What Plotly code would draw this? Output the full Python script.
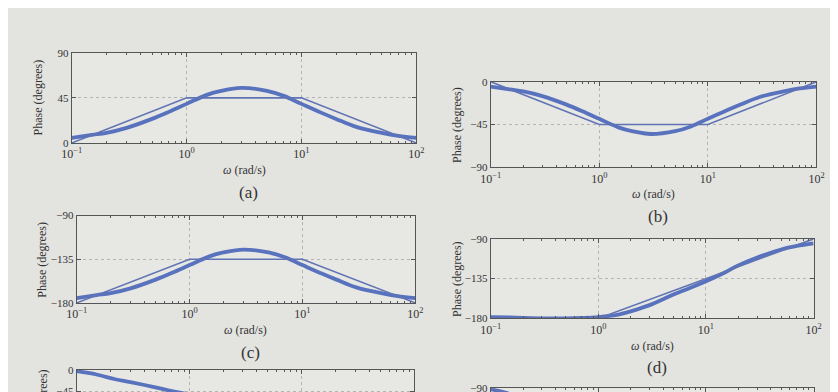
import plotly.graph_objects as go

# ---------------- data ----------------
w = [0.1, 0.15, 0.2, 0.3, 0.5, 0.7, 1, 1.5, 2, 3, 5, 7, 10, 15, 20, 30, 50, 70, 100]
w_asym = [0.1, 1, 10, 100]

a_exact = [5, 8, 10, 15, 24, 31, 39, 48, 52, 55, 52, 47, 39, 30, 24, 16, 10, 7, 5]
a_asym = [0, 45, 45, 0]

b_exact = [-5, -8, -10, -15, -24, -31, -39, -48, -52, -55, -52, -47, -39, -30, -24, -16, -10, -7, -5]
b_asym = [0, -45, -45, 0]

c_exact = [-175, -172, -170, -165, -156, -149, -141, -132, -128, -125, -128, -133, -141, -150, -156, -164, -170, -173, -175]
c_asym = [-180, -135, -135, -180]

d_exact = [-178.5, -179, -179.5, -180, -180, -179.5, -178.5, -176, -172, -165, -153, -146, -138, -128, -120, -111, -102, -98, -95]
d_asym = [-180, -180, -135, -90]

w_e = [0.1, 0.15, 0.22, 0.3, 0.5, 0.7, 1, 1.3]
e_exact = [-3, -10, -20, -26, -37, -45, -52, -58]

w_f = [0.1, 0.137, 0.2]
f_exact = [-91, -95, -102]
f_asym = [-90, -95, -103]

x_tickvals = [0.1, 1, 10, 100]
x_ticktext = ["10<sup>\u22121</sup>", "10<sup>0</sup>", "10<sup>1</sup>", "10<sup>2</sup>"]

# ---------------- style ----------------
W, H = 838, 392
BG = "#e3e3e0"
PLOT_BG = "#e7e7e4"
BLUE = "rgb(88,114,190)"
BLUE_T = "rgb(96,116,180)"
FRAME = "#555555"
GRID = "#b4b4b2"
FONT = "Liberation Serif, Times New Roman, serif"
TXT = "#333333"


def px_x(p):
    return p / W


def px_y(p):
    return 1 - p / H


# panel geometry in pixels: (x0, x1, ytop, ybottom)
panels = {
    "a": (55, 407, 40, 133),
    "b": (483, 816, 70, 158),
    "c": (60, 406, 208, 298),
    "d": (483, 813, 232, 314),
    "e": (60, 405, 367, 392),
    "f": (483, 813, 386, 392),
}

yranges = {
    "a": [0, 90], "b": [-90, 0], "c": [-180, -90], "d": [-180, -90],
    "e": [-51, 0], "f": [-96.5, -90],
}
yticks = {
    "a": [0, 45, 90], "b": [-90, -45, 0], "c": [-180, -135, -90], "d": [-180, -135, -90],
    "e": [-45, 0], "f": [-90],
}

series = {
    "a": [(w, a_exact, "exact"), (w_asym, a_asym, "asym")],
    "b": [(w, b_exact, "exact"), (w_asym, b_asym, "asym")],
    "c": [(w, c_exact, "exact"), (w_asym, c_asym, "asym")],
    "d": [(w, d_exact, "exact"), (w_asym, d_asym, "asym")],
    "e": [(w_e, e_exact, "exact")],
    "f": [(w_f, f_exact, "exact"), (w_f, f_asym, "asym")],
}

fig = go.Figure()
layout = dict(
    width=W, height=H, margin=dict(l=0, r=0, t=0, b=0),
    paper_bgcolor=BG, plot_bgcolor=PLOT_BG, showlegend=False,
    font=dict(family=FONT, color=TXT, size=11),
)
annotations = []

for i, key in enumerate(["a", "b", "c", "d", "e", "f"], start=1):
    x0, x1, yt, yb = panels[key]
    xa = "xaxis" if i == 1 else f"xaxis{i}"
    ya = "yaxis" if i == 1 else f"yaxis{i}"
    xr = "x" if i == 1 else f"x{i}"
    yr = "y" if i == 1 else f"y{i}"
    partial = key in ("e", "f")

    layout[xa] = dict(
        type="log", domain=[px_x(x0), px_x(x1)], anchor=yr, range=[-1, 2],
        tickvals=x_tickvals, ticktext=x_ticktext,
        showticklabels=not partial,
        ticks="inside", ticklen=4, tickcolor=FRAME, tickwidth=1,
        showline=True, linecolor=FRAME, linewidth=1,
        mirror=False if partial else "allticks",
        side="top" if partial else "bottom",
        showgrid=True, gridcolor=GRID, griddash="dot", gridwidth=1,
        minor=dict(ticks="inside", ticklen=2, tickcolor=FRAME, dtick="D1",
                   showgrid=False, tickwidth=1),
        tickfont=dict(family=FONT, size=12, color=TXT),
        zeroline=False, fixedrange=True,
    )
    layout[ya] = dict(
        domain=[px_y(yb), px_y(yt)], anchor=xr, range=yranges[key],
        tickvals=yticks[key], ticktext=[str(v).replace("-", "\u2212") for v in yticks[key]],
        ticks="inside", ticklen=4, tickcolor=FRAME,
        showline=True, linecolor=FRAME, linewidth=1, mirror="allticks",
        showgrid=True, gridcolor=GRID, griddash="dot", gridwidth=1,
        tickfont=dict(family=FONT, size=11, color=TXT),
        zeroline=False, fixedrange=True,
    )

    for xs, ys, kind in series[key]:
        fig.add_trace(go.Scatter(
            x=xs, y=ys, xaxis=xr, yaxis=yr, mode="lines",
            line=dict(color=BLUE if kind == "exact" else BLUE_T,
                      width=3.8 if kind == "exact" else 1.6,
                      shape="spline" if kind == "exact" else "linear"),
            hoverinfo="skip",
        ))

    # y-axis title
    ycenter = (yt + yb) / 2
    if key == "e":
        ycenter = 405
    if key != "f":
        annotations.append(dict(
            text="Phase (degrees)", textangle=-90, xref="paper", yref="paper",
            x=px_x(x0 - 35), y=px_y(ycenter), showarrow=False,
            font=dict(family=FONT, size=12, color=TXT), xanchor="center", yanchor="middle",
        ))

    if not partial:
        cx = (x0 + x1) / 2
        annotations.append(dict(
            text="<i>\u03c9</i> (rad/s)", xref="paper", yref="paper",
            x=px_x(cx), y=px_y(yb + 28), showarrow=False,
            font=dict(family=FONT, size=12, color=TXT), xanchor="center", yanchor="middle",
        ))
        annotations.append(dict(
            text=f"({key})", xref="paper", yref="paper",
            x=px_x(cx + 5), y=px_y(yb + 51), showarrow=False,
            font=dict(family=FONT, size=17, color=TXT), xanchor="center", yanchor="middle",
        ))

layout["annotations"] = annotations
fig.update_layout(**layout)
fig.write_html("out.html")
